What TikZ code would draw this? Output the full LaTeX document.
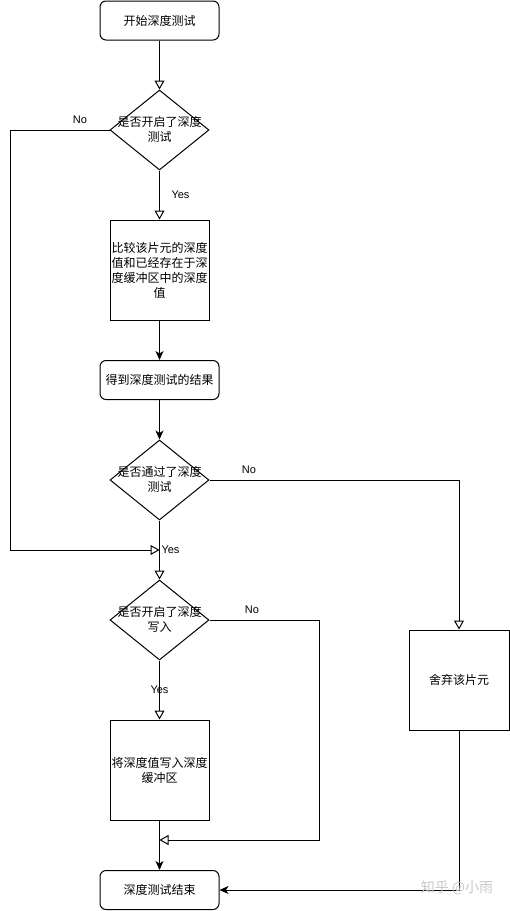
\documentclass[tikz,border=0pt]{standalone}
\usepackage{fontspec}
\setmainfont{Liberation Sans}
\newfontfamily\cjk{Noto Sans CJK SC}
\usetikzlibrary{arrows.meta,shapes.geometric}
\begin{document}
\begin{tikzpicture}[x=1pt,y=-1pt,
  line width=1pt,
  cjkfont/.style={font=\cjk\fontsize{12}{15}\selectfont},
  rbox/.style={draw, rounded corners=6pt, minimum width=119pt, minimum height=39pt, inner sep=0pt, cjkfont},
  sbox/.style={draw, minimum width=99pt, minimum height=100pt, inner sep=0pt, align=center, cjkfont},
  dia/.style={draw, diamond, minimum width=99pt, minimum height=80pt, inner sep=0pt},
  diatext/.style={align=center, inner sep=0pt, cjkfont},
  lbl/.style={font=\fontsize{11}{13}\selectfont, inner sep=0pt},
  openarr/.style={-{Triangle[open,length=9pt,width=10pt]}},
  fillarr/.style={-{Stealth[length=9pt,width=8pt,inset=2.5pt]}}
]
\useasboundingbox (0,0) rectangle (510,911);

% nodes
\node[rbox] (start) at (159.5,20.5) {开始深度测试};
\node[dia] (d1) at (159.5,130) {};
\node[diatext] (d1t) at (159.5,129) {是否开启了深度\\测试};
\node[sbox] (cmp) at (159.5,270) {比较该片元的深度\\值和已经存在于深\\度缓冲区中的深度\\值};
\node[rbox] (get) at (159.5,380) {得到深度测试的结果};
\node[dia] (d2) at (159.5,480) {};
\node[diatext] (d2t) at (159.5,479) {是否通过了深度\\测试};
\node[dia] (d3) at (159.5,620) {};
\node[diatext] (d3t) at (159.5,619) {是否开启了深度\\写入};
\node[sbox] (wr) at (159.5,770) {将深度值写入深度\\缓冲区};
\node[rbox] (end) at (159.5,890) {深度测试结束};
\node[draw, minimum width=100pt, minimum height=100pt, inner sep=0pt, cjkfont] (disc) at (459,680) {舍弃该片元};

% coordinates
\coordinate (c1) at (10,130);
\coordinate (c2) at (10,550);
\coordinate (y1) at (159.5,550);
\coordinate (c3) at (459,480);
\coordinate (c4) at (319,620);
\coordinate (c5) at (319,840);
\coordinate (y2) at (159.5,840);
\coordinate (c6) at (459,890);

% connectors
\draw[openarr] (start) -- (d1);
\draw[openarr] (d1) -- (cmp);
\draw[openarr] (d1.west) -- (c1) -- (c2) -- (y1);
\draw[fillarr] (cmp) -- (get);
\draw[fillarr] (get) -- (d2);
\draw[openarr] (d2.east) -- (c3) -- (disc.north);
\draw[openarr] (d2) -- (d3);
\draw[openarr] (d3.east) -- (c4) -- (c5) -- (y2);
\draw[openarr] (d3) -- (wr);
\draw[fillarr] (wr) -- (end);
\draw[fillarr] (disc.south) -- (c6) -- (end.east);

% labels
\node[lbl] (l1) at (80,120) {No};
\node[lbl, anchor=west] (l2) at (171,195) {Yes};
\node[lbl] (l3) at (249,470) {No};
\node[lbl, anchor=west] (l4) at (161,550) {Yes};
\node[lbl] (l5) at (252,610) {No};
\node[lbl] (l6) at (159.5,690) {Yes};

% watermark
\node[font=\cjk\fontsize{14}{16}\selectfont, text=black!22, inner sep=0pt] (wm) at (457,888) {知乎 @小雨};
\end{tikzpicture}
\end{document}
